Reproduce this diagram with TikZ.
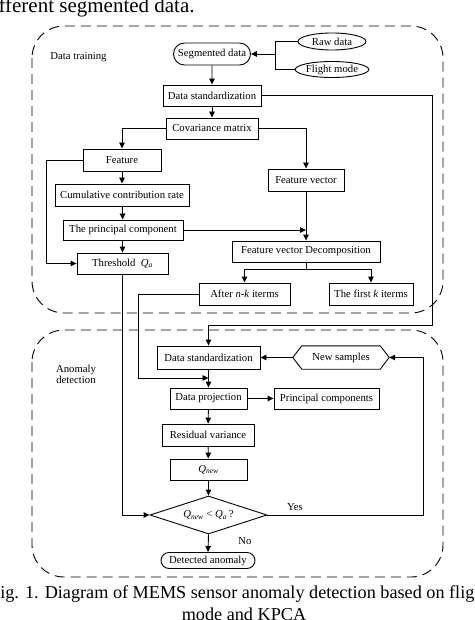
\documentclass[tikz,border=0pt]{standalone}
\usepackage{fontspec}
\setmainfont{Liberation Serif}
\usetikzlibrary{arrows.meta,shapes.geometric,shapes.misc,calc}
\newcommand{\dfs}{\fontsize{10.7}{12.5}\selectfont}
\begin{document}
\begin{tikzpicture}[x=1pt,y=-1pt,
  box/.style={draw, line width=0.9pt, inner sep=0pt, minimum height=21pt, font=\dfs},
  rbox/.style={box, rounded rectangle},
  ell/.style={box, ellipse},
  plain/.style={inner sep=0pt, font=\dfs, align=center},
  conn/.style={line width=0.9pt},
  arr/.style={conn, -{Triangle[length=6pt,width=5.5pt]}},
  group/.style={draw, line width=0.9pt, dash pattern=on 10pt off 6pt, rounded corners=32pt},
  captxt/.style={inner sep=0pt, font=\fontsize{18.2}{21}\selectfont},
  toptxt/.style={inner sep=0pt, font=\fontsize{21}{24}\selectfont}
]
\useasboundingbox (0,0) rectangle (474,620);

% cut-off surrounding text
\node[toptxt, anchor=base west] (toptext) at (-18,13) {different segmented data.};
\node[captxt, anchor=base west] (cap1) at (-10,598) {Fig. 1. Diagram of MEMS sensor anomaly detection based on flight};
\node[captxt, anchor=base] (cap2) at (244,620) {mode and KPCA};

% group frames
\draw[group] (32,26) rectangle (443,313);
\draw[group] (32,330) rectangle (443,577);
\node[plain] (lbltrain) at (78.5,57) {Data training};
\node[plain] (lbldet) at (76,374.5) {Anomaly\\[-1pt]detection};

% training nodes
\node[rbox, minimum width=77pt, minimum height=22pt] (seg) at (212,54) {Segmented data};
\node[ell, minimum width=68pt, minimum height=17pt] (raw) at (332,41.5) {Raw data};
\node[ell, minimum width=68pt, minimum height=16pt] (flight) at (332,69.5) {Flight mode};
\node[box, minimum width=98pt] (ds1) at (212,95.5) {Data standardization};
\node[box, minimum width=92pt] (cov) at (212,128.5) {Covariance matrix};
\node[box, minimum width=78pt, minimum height=22pt] (feat) at (122,160) {Feature};
\node[box, minimum width=76pt, minimum height=22pt] (fvec) at (306,180) {Feature vector};
\node[box, minimum width=134pt, minimum height=22pt] (cum) at (122,195) {Cumulative contribution rate};
\node[box, minimum width=120pt, minimum height=20pt] (pc) at (123,230) {The principal component};
\node[box, minimum width=91pt] (thr) at (122.5,263.5) {Threshold\ \ \textit{Q}\textsubscript{\textit{a}}};
\node[box, minimum width=148pt] (fvd) at (306,251.5) {Feature vector Decomposition};
\node[box, minimum width=91pt, minimum height=22pt] (after) at (244.5,294) {After \textit{n}-\textit{k} iterms};
\node[box, minimum width=84pt, minimum height=22pt] (first) at (371,294) {The first \textit{k} iterms};

% detection nodes
\node[box, minimum width=103pt, minimum height=23pt] (ds2) at (208.5,357.5) {Data standardization};
\node[plain, minimum width=96pt, minimum height=23pt] (news) at (341,357.5) {New samples};
\draw[line width=0.9pt] (news.west) -- ([xshift=9pt]news.north west) -- ([xshift=-9pt]news.north east)
  -- (news.east) -- ([xshift=-9pt]news.south east) -- ([xshift=9pt]news.south west) -- cycle;
\node[box, minimum width=77pt] (dproj) at (208.5,398.5) {Data projection};
\node[box, minimum width=105pt] (pcs) at (326.5,398.5) {Principal components};
\node[box, minimum width=92pt, minimum height=22pt] (resv) at (208,435) {Residual variance};
\node[box, minimum width=77pt] (qnew) at (208.5,469.5) {\textit{Q}\textsubscript{\textit{new}}};
\node[box, diamond, shape aspect=3.08, minimum width=117pt, minimum height=38pt] (dia) at (208.5,515)
  {\textit{Q}\textsubscript{\textit{new}} < \textit{Q}\textsubscript{\textit{a}}\,?};
\node[rbox, minimum width=94pt, minimum height=16pt] (det) at (208,560.5) {Detected anomaly};
\node[plain] (yes) at (295,507) {Yes};
\node[plain] (no) at (245,541) {No};

% connectors: training
\coordinate (jn) at (275,54);
\draw[conn] (raw.west) -| (jn);
\draw[conn] (flight.west) -| (jn);
\draw[arr] (jn) -- (seg.east);
\draw[arr] (seg) -- (ds1);
\draw[arr] (ds1) -- (cov);
\draw[arr] (cov.west) -| (feat.north);
\draw[arr] (cov.east) -| (fvec.north);
\draw[arr] (feat) -- (cum);
\draw[arr] (cum) -- (pc);
\draw[arr] (pc.south -| thr.north) -- (thr.north);
\coordinate (l1) at (46,263.5);
\draw[arr] (feat.west) -| (l1) -- (thr.west);
\draw[arr] (fvec) -- (fvd);
\draw[arr] (pc.east) -- (pc.east -| fvec.south);
\coordinate (br) at (306,269);
\draw[conn] (fvd.south) -- (br);
\draw[arr] (br) -| (after.north);
\draw[arr] (br) -| (first.north);

% connectors: into detection
\coordinate (r1) at (432,325);
\draw[arr] (ds1.east) -| (r1) -| (ds2.north);
\coordinate (l2) at (138,378);
\coordinate (m2) at (208.5,378);
\draw[arr] (after.west) -| (l2) -- (m2);
\draw[arr] (ds2) -- (dproj);
\draw[arr] (news.west) -- (ds2.east);
\draw[arr] (dproj) -- (pcs);
\draw[arr] (dproj) -- (resv);
\draw[arr] (resv) -- (qnew);
\draw[arr] (qnew) -- (dia.north);
\draw[arr] (thr.south) |- (dia.west);
\coordinate (r2) at (423,515);
\draw[arr] (dia.east) -- (r2) |- (news.east);
\draw[arr] (dia.south) -- (det.north);
\end{tikzpicture}
\end{document}
